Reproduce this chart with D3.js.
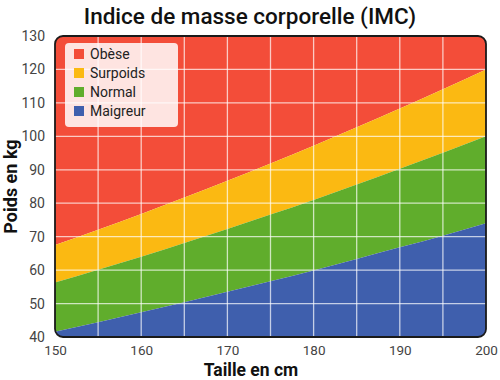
<!DOCTYPE html>
<html><head><meta charset="utf-8">
<script src="https://cdn.jsdelivr.net/npm/d3@7"></script>
<style>body{margin:0;background:#fff}svg{display:block}</style>
</head><body>
<svg id="c" width="500" height="380"></svg>
<script>
const heights = [150,155,160,165,170,175,180,185,190,195,200];
const maigreurTop = [41.6,44.4,47.4,50.4,53.5,56.7,59.9,63.3,66.8,70.3,74.0];
const normalTop = [56.3,60.1,64.0,68.1,72.3,76.6,81.0,85.6,90.3,95.1,100.0];
const surpoidsTop = [67.5,72.1,76.8,81.7,86.7,91.9,97.2,102.7,108.3,114.1,120.0];
const yMin = 40, yMax = 130;
const xTicks = [150,160,170,180,190,200];
const yTicks = [40,50,60,70,80,90,100,110,120,130];
const xGrid = [155,160,165,170,175,180,185,190,195];
const yGrid = [50,60,70,80,90,100,110,120];
const categories = ["Obèse","Surpoids","Normal","Maigreur"];
const colors = ["#F34D39","#FBB912","#60AD2C","#3F5FAD"];

const svg = d3.select("#c");
const L=55,R=486,T=36,B=337;
const x = d3.scaleLinear().domain([150,200]).range([L,R]);
const y = d3.scaleLinear().domain([yMin,yMax]).range([B,T]);

const defs = svg.append("defs");
defs.append("clipPath").attr("id","clip").append("rect")
  .attr("x",L).attr("y",T).attr("width",R-L).attr("height",B-T).attr("rx",8);

const g = svg.append("g").attr("clip-path","url(#clip)");
const rows = heights.map((h,i)=>({h, m:maigreurTop[i], n:normalTop[i], s:surpoidsTop[i]}));
const bands = [
  {c:colors[0], lo:d=>d.s, hi:()=>yMax},
  {c:colors[1], lo:d=>d.n, hi:d=>d.s},
  {c:colors[2], lo:d=>d.m, hi:d=>d.n},
  {c:colors[3], lo:()=>yMin, hi:d=>d.m}
];
bands.forEach(b=>{
  const area = d3.area().curve(d3.curveMonotoneX)
    .x(d=>x(d.h)).y0(d=>y(b.lo(d))).y1(d=>y(b.hi(d)));
  g.append("path").datum(rows).attr("d",area).attr("fill",b.c);
});
g.selectAll(".vg").data(xGrid).join("line")
  .attr("x1",d=>x(d)).attr("x2",d=>x(d)).attr("y1",T).attr("y2",B)
  .attr("stroke","#fff").attr("stroke-opacity",0.7).attr("stroke-width",1.3);
g.selectAll(".hg").data(yGrid).join("line")
  .attr("y1",d=>y(d)).attr("y2",d=>y(d)).attr("x1",L).attr("x2",R)
  .attr("stroke","#fff").attr("stroke-opacity",0.7).attr("stroke-width",1.3);

svg.append("rect").attr("x",L).attr("y",T).attr("width",R-L).attr("height",B-T).attr("rx",8)
  .attr("fill","none").attr("stroke","#1a1a1a").attr("stroke-width",1.8);

const font = "Roboto, 'Noto Sans', sans-serif";
const xAxis = svg.append("g").attr("transform",`translate(0,${B+3})`)
  .call(d3.axisBottom(x).tickValues(xTicks).tickSize(0).tickPadding(5));
xAxis.select(".domain").remove();
xAxis.selectAll("text").attr("font-family",font).attr("font-size",13.5).attr("fill","#444");
const yAxis = svg.append("g").attr("transform",`translate(${L-4},0)`)
  .call(d3.axisLeft(y).tickValues(yTicks).tickSize(0).tickPadding(6));
yAxis.select(".domain").remove();
yAxis.selectAll("text").attr("font-family",font).attr("font-size",14).attr("fill","#444");

svg.append("text").attr("x",250).attr("y",24).attr("text-anchor","middle")
  .attr("font-family",font).attr("font-size",22.5).attr("font-weight",500).attr("fill","#111")
  .text("Indice de masse corporelle (IMC)");
svg.append("text").attr("x",251).attr("y",376).attr("text-anchor","middle")
  .attr("font-family",font).attr("font-size",17.5).attr("font-weight",700).attr("fill","#111")
  .text("Taille en cm");
svg.append("text").attr("transform",`translate(17,${(T+B)/2}) rotate(-90)`).attr("text-anchor","middle")
  .attr("font-family",font).attr("font-size",18).attr("font-weight",700).attr("fill","#111")
  .text("Poids en kg");

const lg = svg.append("g").attr("transform","translate(65,43)");
lg.append("rect").attr("width",113).attr("height",84).attr("rx",4)
  .attr("fill","#fff").attr("fill-opacity",0.85);
categories.forEach((c,i)=>{
  const row = lg.append("g").attr("transform",`translate(9,${11+i*19})`);
  row.append("rect").attr("x",0).attr("y",-5).attr("width",10).attr("height",10).attr("fill",colors[i]);
  row.append("text").attr("x",16).attr("y",5).attr("font-family",font).attr("font-size",14)
    .attr("fill","#222").text(c);
});
</script>
</body></html>
